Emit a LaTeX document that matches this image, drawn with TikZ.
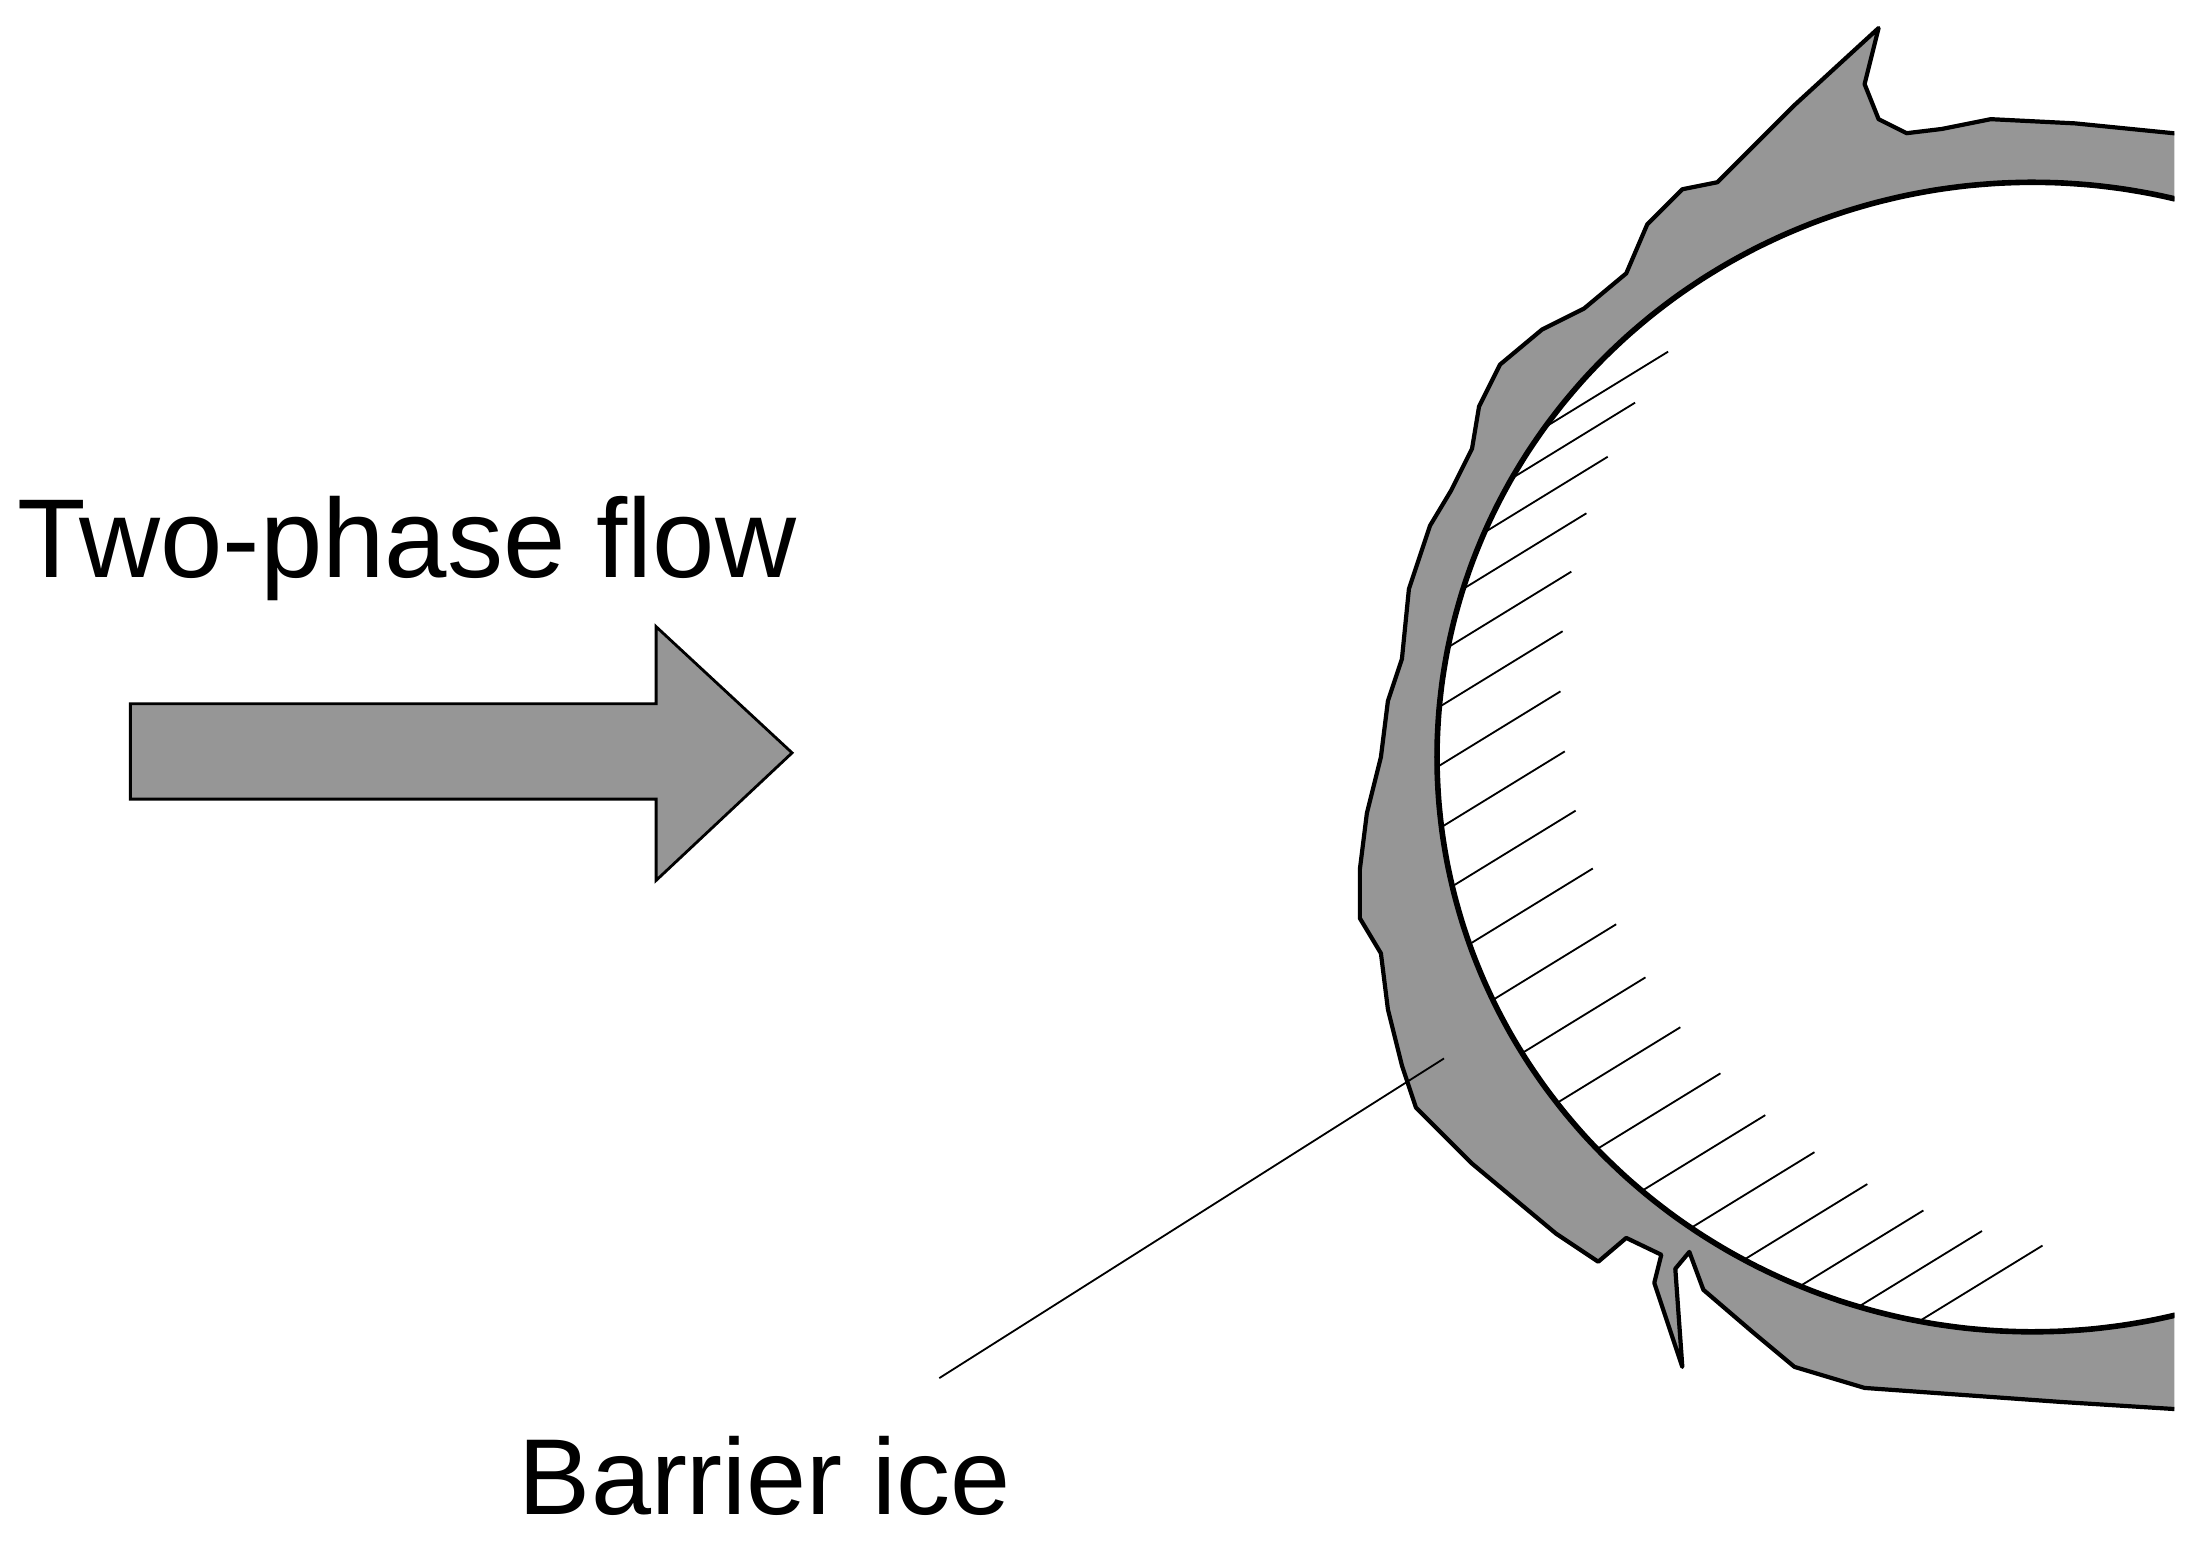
\documentclass[tikz,border=0pt]{standalone}
\usepackage{fontspec}
\setmainfont{Liberation Sans}
\begin{document}
\begin{tikzpicture}[x=1pt,y=-1pt,
  ice/.style={fill=icegray,draw=black,line width=3pt,line join=round},
  hatch/.style={draw=black,line width=1.3pt}]
\definecolor{icegray}{RGB}{150,150,150}
\useasboundingbox (0,0) rectangle (1560,1106);
% arrow
\draw[ice,line width=2pt,line join=miter] (93,502) -- (468,502) -- (468,447) -- (565,537) -- (468,628) -- (468,570) -- (93,570) -- cycle;
\node[anchor=base west,font=\fontsize{80}{90}\selectfont,inner sep=0] (flow) at (12,412) {Two-phase flow};
% ring
\begin{scope}
\clip (0,0) rectangle (1551,1106);
\path[ice] (1570,95) -- (1550,95) -- (1480,88) -- (1420,85) -- (1385,92) -- (1360,95) -- (1340,85) -- (1330,60) -- (1340,20)
 -- (1280,75) -- (1225,130) -- (1200,135) -- (1175,160) -- (1160,195) -- (1130,220) -- (1100,235) -- (1070,260)
 -- (1055,290) -- (1050,320) -- (1035,350) -- (1020,375) -- (1005,420) -- (1000,470) -- (990,500) -- (985,540)
 -- (975,580) -- (970,620) -- (970,655) -- (985,680) -- (990,720) -- (1000,760) -- (1010,790) -- (1030,810)
 -- (1050,830) -- (1080,855) -- (1110,880) -- (1140,900) -- (1160,883) -- (1185,895) -- (1180,915) -- (1200,975)
 -- (1195,905) -- (1205,893) -- (1215,920) -- (1250,950) -- (1280,975) -- (1330,990) -- (1400,995) -- (1470,1000)
 -- (1550,1005) -- (1570,1005) -- (1570,950)
 -- plot[domain=76:284,samples=80,smooth] ({1450+425*cos(\x)},{540+410*sin(\x)}) -- cycle;
\draw[line width=4pt] plot[domain=60:300,samples=80,smooth] ({1450+425*cos(\x)},{540+410*sin(\x)});
\end{scope}
\foreach \t in {101,107,...,218}{
  \coordinate (h) at ({1450+425*cos(\t)},{540+410*sin(\t)});
  \draw[hatch] (h) -- ++(88,-54);
}
% label
\node[anchor=base west,font=\fontsize{77}{90}\selectfont,inner sep=0] (ice) at (370,1080) {Barrier ice};
\coordinate (lstart) at (670,983);
\coordinate (lend) at (1030,755);
\draw[line width=1.3pt] (lstart) -- (lend);
\end{tikzpicture}
\end{document}
